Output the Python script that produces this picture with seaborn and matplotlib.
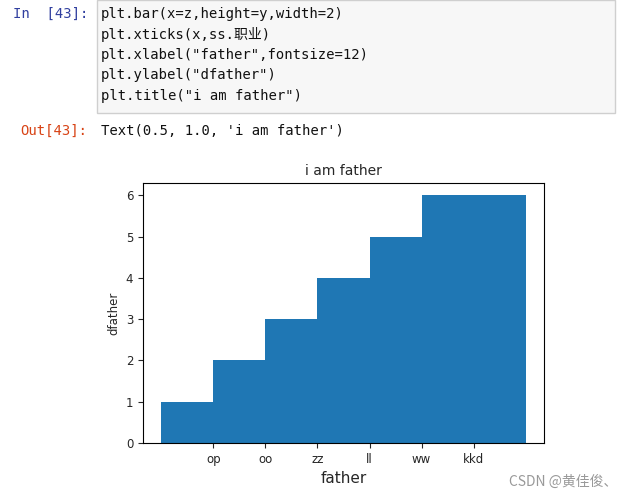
import matplotlib
matplotlib.use("Agg")
import matplotlib.pyplot as plt
import seaborn as sns
import pandas as pd
from matplotlib.patches import Rectangle

z = [1, 2, 3, 4, 5, 6]
y = [1, 2, 3, 4, 5, 6]
labels = ["op", "oo", "zz", "ll", "ww", "kkd"]

sns.set_style("ticks")
plt.rcParams['font.family'] = ['DejaVu Sans', 'Noto Sans CJK SC']

fig = plt.figure(figsize=(6.34, 4.99), dpi=100)

# notebook code cell
fig.patches.append(Rectangle((97/634, 1-113/499), 518/634, 113/499, transform=fig.transFigure,
                             facecolor="#f7f7f7", edgecolor="#cfcfcf", lw=1))
fig.text(13/634, 1-14/499, "In  [43]:", color="#303f9f", family=["DejaVu Sans Mono"], fontsize=10, va="center")
code = ['plt.bar(x=z,height=y,width=2)', 'plt.xticks(x,ss.职业)', 'plt.xlabel("father",fontsize=12)',
        'plt.ylabel("dfather")', 'plt.title("i am father")']
for i, line in enumerate(code):
    fig.text(101/634, 1-(14+20.5*i)/499, line, color="#111111",
             family=["DejaVu Sans Mono", "Noto Sans CJK SC"], fontsize=10, va="center")
fig.text(20/634, 1-131/499, "Out[43]:", color="#d84315", family=["DejaVu Sans Mono"], fontsize=10, va="center")
fig.text(101/634, 1-131/499, "Text(0.5, 1.0, 'i am father')", color="#111111",
         family=["DejaVu Sans Mono"], fontsize=10, va="center")

ax = fig.add_axes([143/634, 1-443/499, 401/634, 260/499])
df = pd.DataFrame({"z": z, "y": y})
sns.barplot(data=df, x="z", y="y", native_scale=True, width=2, color="#1f77b4",
            saturation=1, errorbar=None, ax=ax, linewidth=0, edgecolor="none")
ax.set_xlim(-0.35, 7.35)
ax.set_ylim(0, 6.3)
ax.set_xticks(z)
ax.set_xticklabels(labels, fontsize=8.5)
ax.tick_params(axis="y", labelsize=8.5)
ax.set_xlabel("father", fontsize=11)
ax.set_ylabel("dfather", fontsize=8.5)
ax.set_title("i am father", fontsize=10)
for s in ax.spines.values():
    s.set_visible(True)
    s.set_color("black")
    s.set_linewidth(0.8)

fig.text(617/634, 1-482/499, "CSDN @黄佳俊、", color="#999999", fontsize=10, ha="right", va="center",
         family=["Noto Sans CJK SC", "DejaVu Sans"])
fig.savefig("out.png", dpi=100)
